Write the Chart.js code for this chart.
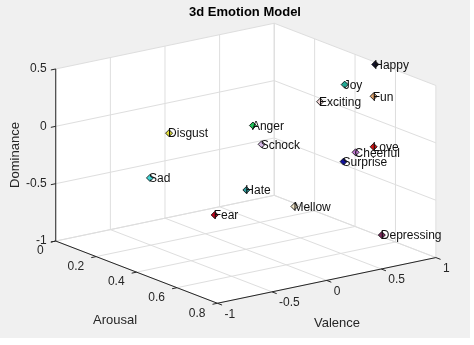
<!DOCTYPE html>
<html>
<head>
<meta charset="utf-8">
<script src="https://cdn.jsdelivr.net/npm/chart.js@4"></script>
<style>
  html, body { margin: 0; padding: 0; background: #ffffff; }
  #graph { display: block; }
</style>
</head>
<body>
<canvas id="graph" width="474" height="345"></canvas>
<script>
// emotions in valence / arousal / dominance space
const emotions = ['Happy', 'Joy', 'Fun', 'Exciting', 'Anger', 'Schock', 'Love', 'Cheerful',
  'Surprise', 'Disgust', 'Sad', 'Hate', 'Fear', 'Mellow', 'Depressing'];
const valence = [1.00, 0.72, 0.80, 0.31, -0.49, -0.41, 0.80, 0.82, 0.34, -0.61, -0.60, -0.55, -0.84, 0.63, 0.69];
const arousal = [0.50, 0.50, 0.60, 0.60, 0.70, 0.70, 0.60, 0.50, 0.70, 0.35, 0.25, 0.70, 0.70, 0.30, 0.70];
const dominance = [0.48, 0.36, 0.31, 0.36, 0.38, 0.20, -0.13, -0.25, -0.10, 0.10, -0.36, -0.17, -0.33, -0.82, -0.81];
const markerColors = ['#14142e', '#22a893', '#e2a46e', '#f3d6d6', '#22c25a', '#d6b8e6', '#d41414', '#c47ad6',
  '#12129e', '#e6e23c', '#44d6d6', '#2e9c9c', '#c4061e', '#f2e6c8', '#7e2a5e'];

// axis ticks (first and last value are the limits)
const valenceTicks = [-1, -0.5, 0, 0.5, 1];
const arousalTicks = [0, 0.2, 0.4, 0.6, 0.8];
const dominanceTicks = [-1, -0.5, 0, 0.5];

// view of the 3d box on the canvas (pixels per unit along each axis)
const view = { ox: 52, oy: 243, vx: 111.5, vy: -23.5, ax: 206.25, ay: 80, dz: -118 };

function project(v, a, d) {
  const u = v - valenceTicks[0];
  const s = a - arousalTicks[0];
  const w = d - dominanceTicks[0];
  return {
    x: view.ox + view.vx * u + view.ax * s,
    y: view.oy + view.vy * u + view.ay * s + view.dz * w
  };
}

const vMin = valenceTicks[0], vMax = valenceTicks[valenceTicks.length - 1];
const aMin = arousalTicks[0], aMax = arousalTicks[arousalTicks.length - 1];
const dMin = dominanceTicks[0], dMax = dominanceTicks[dominanceTicks.length - 1];

const FONT = '"Liberation Sans", Arial, sans-serif';
const AXIS_COLOR = '#262626';
const GRID_COLOR = '#dedede';

// draws the box, grid, axes, ticks and titles
const boxPlugin = {
  id: 'box3d',
  beforeDatasetsDraw(chart) {
    const ctx = chart.ctx;
    const sx = chart.scales.x, sy = chart.scales.y;
    const P = (v, a, d) => {
      const p = project(v, a, d);
      return [sx.getPixelForValue(p.x), sy.getPixelForValue(p.y)];
    };
    const line = (p1, p2) => {
      ctx.beginPath();
      ctx.moveTo(p1[0], p1[1]);
      ctx.lineTo(p2[0], p2[1]);
      ctx.stroke();
    };

    ctx.save();
    // figure background
    ctx.fillStyle = '#f0f0f0';
    ctx.fillRect(0, 0, 470, 338);

    // white back panes
    const pane = [P(vMin, aMin, dMin), P(vMin, aMin, dMax), P(vMax, aMin, dMax),
      P(vMax, aMax, dMax), P(vMax, aMax, dMin), P(vMin, aMax, dMin)];
    ctx.fillStyle = '#ffffff';
    ctx.beginPath();
    pane.forEach((p, i) => i ? ctx.lineTo(p[0], p[1]) : ctx.moveTo(p[0], p[1]));
    ctx.closePath();
    ctx.fill();

    // grid lines
    ctx.strokeStyle = GRID_COLOR;
    ctx.lineWidth = 1;
    // back-left wall (arousal = min)
    valenceTicks.forEach(v => line(P(v, aMin, dMin), P(v, aMin, dMax)));
    dominanceTicks.forEach(d => line(P(vMin, aMin, d), P(vMax, aMin, d)));
    // back-right wall (valence = max)
    arousalTicks.forEach(a => line(P(vMax, a, dMin), P(vMax, a, dMax)));
    dominanceTicks.forEach(d => line(P(vMax, aMin, d), P(vMax, aMax, d)));
    // floor
    valenceTicks.forEach(v => line(P(v, aMin, dMin), P(v, aMax, dMin)));
    arousalTicks.forEach(a => line(P(vMin, a, dMin), P(vMax, a, dMin)));

    // axis lines
    ctx.strokeStyle = AXIS_COLOR;
    line(P(vMin, aMin, dMin), P(vMin, aMin, dMax));
    line(P(vMin, aMin, dMin), P(vMin, aMax, dMin));
    line(P(vMin, aMax, dMin), P(vMax, aMax, dMin));

    // tick marks
    const vLen = Math.hypot(view.vx, view.vy);
    const aLen = Math.hypot(view.ax, view.ay);
    const tv = [-5 * view.vx / vLen, -5 * view.vy / vLen];
    const ta = [5 * view.ax / aLen, 5 * view.ay / aLen];
    dominanceTicks.forEach(d => {
      const p = P(vMin, aMin, d);
      line(p, [p[0] + tv[0], p[1] + tv[1]]);
    });
    arousalTicks.forEach(a => {
      const p = P(vMin, a, dMin);
      line(p, [p[0] + tv[0], p[1] + tv[1]]);
    });
    valenceTicks.forEach(v => {
      const p = P(v, aMax, dMin);
      line(p, [p[0] + ta[0], p[1] + ta[1]]);
    });

    // tick labels
    ctx.fillStyle = AXIS_COLOR;
    ctx.font = '12px ' + FONT;
    ctx.textBaseline = 'middle';
    ctx.textAlign = 'right';
    dominanceTicks.forEach(d => {
      const p = P(vMin, aMin, d);
      ctx.fillText(String(d), p[0] - 9, p[1]);
    });
    arousalTicks.forEach(a => {
      const p = P(vMin, a, dMin);
      ctx.fillText(String(a), p[0] - 12, p[1] + 10);
    });
    ctx.textAlign = 'left';
    valenceTicks.forEach(v => {
      const p = P(v, aMax, dMin);
      ctx.fillText(String(v), p[0] + 7, p[1] + 11);
    });

    // axis titles
    ctx.font = '13px ' + FONT;
    ctx.textAlign = 'center';
    ctx.fillText('Arousal', 115, 320);
    ctx.fillText('Valence', 337, 323);
    ctx.save();
    ctx.translate(15, 155);
    ctx.rotate(-Math.PI / 2);
    ctx.fillText('Dominance', 0, 0);
    ctx.restore();

    // title
    ctx.fillStyle = '#000000';
    ctx.font = 'bold 13px ' + FONT;
    ctx.fillText('3d Emotion Model', 245, 12);
    ctx.restore();
  },
  afterDatasetsDraw(chart) {
    // text next to each point
    const ctx = chart.ctx;
    const meta = chart.getDatasetMeta(0);
    ctx.save();
    ctx.fillStyle = '#111111';
    ctx.font = '12px ' + FONT;
    ctx.textAlign = 'left';
    ctx.textBaseline = 'middle';
    meta.data.forEach((pt, i) => {
      ctx.fillText(emotions[i], pt.x - 1, pt.y + 1);
    });
    ctx.restore();
  }
};

const points = emotions.map((e, i) => project(valence[i], arousal[i], dominance[i]));

const config = {
  type: 'scatter',
  data: {
    datasets: [{
      label: 'Emotions',
      data: points,
      pointStyle: 'rectRot',
      pointRadius: 3.5,
      backgroundColor: markerColors,
      borderColor: '#000000',
      borderWidth: 0.8,
      clip: false
    }]
  },
  options: {
    responsive: false,
    animation: false,
    devicePixelRatio: 1,
    layout: { padding: 0 },
    events: [],
    plugins: {
      legend: { display: false },
      title: { display: false },
      tooltip: { enabled: false }
    },
    scales: {
      x: { type: 'linear', min: 0, max: 474, display: false },
      y: { type: 'linear', min: 0, max: 345, reverse: true, display: false }
    }
  },
  plugins: [boxPlugin]
};

const emotionChart = new Chart(document.getElementById('graph'), config);
</script>
</body>
</html>
